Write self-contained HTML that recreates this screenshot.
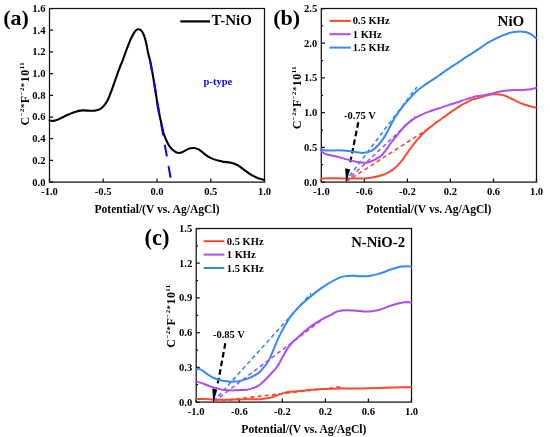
<!DOCTYPE html>
<html><head><meta charset="utf-8"><title>Mott-Schottky plots</title>
<style>html,body{margin:0;padding:0;background:#fff;width:550px;height:437px;overflow:hidden}svg{display:block}text{fill:#000}</style>
</head><body>
<svg width="550" height="437" viewBox="0 0 550 437" style="font-family:'Liberation Serif','Times New Roman',serif;font-weight:bold">
<rect x="49.5" y="8.5" width="215.0" height="173.6" fill="none" stroke="#111" stroke-width="1.25"/>
<path d="M49.5,182.1v-3.6 M103.2,182.1v-3.6 M157.0,182.1v-3.6 M210.8,182.1v-3.6 M264.5,182.1v-3.6 M49.5,182.1h3.6 M49.5,160.4h3.6 M49.5,138.7h3.6 M49.5,117.0h3.6 M49.5,95.3h3.6 M49.5,73.6h3.6 M49.5,51.9h3.6 M49.5,30.2h3.6 M49.5,8.5h3.6" stroke="#111" stroke-width="1.25" fill="none"/>
<text x="49.5" y="194.8" text-anchor="middle" font-size="10.6">-1.0</text>
<text x="103.2" y="194.8" text-anchor="middle" font-size="10.6">-0.5</text>
<text x="157.0" y="194.8" text-anchor="middle" font-size="10.6">0.0</text>
<text x="210.8" y="194.8" text-anchor="middle" font-size="10.6">0.5</text>
<text x="264.5" y="194.8" text-anchor="middle" font-size="10.6">1.0</text>
<text x="45.5" y="185.5" text-anchor="end" font-size="10.6">0.0</text>
<text x="45.5" y="163.8" text-anchor="end" font-size="10.6">0.2</text>
<text x="45.5" y="142.1" text-anchor="end" font-size="10.6">0.4</text>
<text x="45.5" y="120.4" text-anchor="end" font-size="10.6">0.6</text>
<text x="45.5" y="98.7" text-anchor="end" font-size="10.6">0.8</text>
<text x="45.5" y="77.0" text-anchor="end" font-size="10.6">1.0</text>
<text x="45.5" y="55.3" text-anchor="end" font-size="10.6">1.2</text>
<text x="45.5" y="33.6" text-anchor="end" font-size="10.6">1.4</text>
<text x="45.5" y="11.9" text-anchor="end" font-size="10.6">1.6</text>
<path d="M49.6,120.4 C50.2,120.5 51.6,121.1 53.0,120.9 C54.4,120.8 56.3,120.2 58.0,119.5 C59.7,118.8 61.5,117.9 63.3,117.0 C65.1,116.1 67.1,115.1 69.0,114.3 C70.9,113.5 72.4,112.7 74.7,112.0 C77.0,111.3 80.0,110.6 82.7,110.4 C85.4,110.2 88.7,110.8 90.7,110.8 C92.8,110.8 93.5,110.9 95.0,110.6 C96.5,110.3 98.5,109.9 100.0,109.1 C101.5,108.3 102.5,107.4 103.8,105.9 C105.1,104.4 106.4,102.5 107.6,100.3 C108.8,98.1 109.7,95.4 110.7,92.7 C111.8,90.0 112.9,86.8 113.9,83.9 C115.0,81.0 116.0,78.0 117.0,75.1 C118.0,72.2 119.3,68.6 120.2,66.3 C121.1,64.0 121.5,63.5 122.4,61.2 C123.3,58.9 124.5,55.2 125.5,52.5 C126.5,49.8 127.6,47.0 128.5,44.7 C129.4,42.4 130.1,40.4 131.0,38.5 C131.9,36.6 132.9,34.7 133.7,33.4 C134.5,32.1 135.1,31.2 135.8,30.5 C136.5,29.8 137.1,29.4 137.8,29.3 C138.5,29.2 139.3,29.3 140.0,29.6 C140.7,29.9 141.3,30.5 141.9,31.3 C142.5,32.1 143.1,33.3 143.6,34.5 C144.1,35.7 144.5,36.8 145.0,38.5 C145.5,40.2 146.1,42.6 146.6,45.0 C147.1,47.4 147.5,50.3 148.1,53.0 C148.7,55.7 149.5,58.1 150.2,61.2 C150.9,64.3 151.5,67.7 152.2,71.5 C152.9,75.3 153.6,79.7 154.3,83.8 C155.0,87.9 155.7,92.2 156.3,96.2 C156.9,100.2 157.3,104.1 158.0,108.0 C158.7,111.9 159.5,115.1 160.5,119.5 C161.5,123.9 162.6,130.1 163.9,134.3 C165.2,138.5 167.1,142.0 168.4,144.5 C169.8,147.0 170.7,148.0 172.0,149.3 C173.3,150.6 174.7,151.6 176.0,152.2 C177.3,152.8 178.6,153.0 179.8,152.9 C181.1,152.8 182.3,152.2 183.5,151.6 C184.7,151.0 185.8,150.1 187.0,149.6 C188.2,149.1 189.3,148.6 190.5,148.3 C191.7,148.0 192.6,147.8 194.0,148.0 C195.4,148.2 197.1,148.4 199.1,149.6 C201.1,150.8 203.6,153.5 205.9,155.1 C208.2,156.7 210.0,157.8 212.7,158.9 C215.3,160.0 218.8,160.8 221.8,161.4 C224.8,162.1 228.2,162.2 230.9,162.8 C233.6,163.4 235.4,164.0 237.7,165.2 C240.0,166.4 242.2,168.6 244.5,170.2 C246.8,171.8 249.1,173.6 251.4,174.9 C253.7,176.2 256.1,177.4 258.2,178.2 C260.3,179.0 263.0,179.5 264.0,179.8" fill="none" stroke="#000" stroke-width="2.1" stroke-linejoin="round" stroke-linecap="round"/>
<line x1="150.0" y1="60.0" x2="170.6" y2="177.8" stroke="#0808ee" stroke-width="2.0" stroke-dasharray="12,9.5"/>
<text x="203.6" y="84.6" font-size="10.5" style="fill:#0808ee">p-type</text>
<line x1="180.3" y1="21.4" x2="210" y2="21.4" stroke="#000" stroke-width="2.2"/>
<text x="211.6" y="24.8" font-size="15">T-NiO</text>
<text transform="translate(28.8,93.7) rotate(-90)" text-anchor="middle" font-size="12" letter-spacing="0.45">C<tspan font-size="6.8" dy="-5.00">&#8722;2</tspan><tspan font-size="9" dy="3.30">*</tspan><tspan dy="1.70">F</tspan><tspan font-size="6.8" dy="-5.00">&#8722;2</tspan><tspan font-size="9" dy="3.30">*</tspan><tspan dy="1.70">10</tspan><tspan font-size="6.8" dy="-5.00">11</tspan></text>
<text x="157.0" y="213.1" text-anchor="middle" font-size="11.6">Potential/(V vs. Ag/AgCl)</text>
<text x="3.3" y="25.3" font-size="22">(a)</text>
<rect x="321.3" y="8.5" width="215.2" height="173.6" fill="none" stroke="#111" stroke-width="1.25"/>
<path d="M321.3,182.1v-3.6 M364.3,182.1v-3.6 M407.4,182.1v-3.6 M450.4,182.1v-3.6 M493.5,182.1v-3.6 M536.5,182.1v-3.6 M321.3,182.1h3.6 M321.3,147.4h3.6 M321.3,112.7h3.6 M321.3,77.9h3.6 M321.3,43.2h3.6 M321.3,8.5h3.6 M321.3,164.7h1.8 M321.3,130.0h1.8 M321.3,95.3h1.8 M321.3,60.6h1.8 M321.3,25.9h1.8" stroke="#111" stroke-width="1.25" fill="none"/>
<text x="321.3" y="194.8" text-anchor="middle" font-size="10.6">-1.0</text>
<text x="364.3" y="194.8" text-anchor="middle" font-size="10.6">-0.6</text>
<text x="407.4" y="194.8" text-anchor="middle" font-size="10.6">-0.2</text>
<text x="450.4" y="194.8" text-anchor="middle" font-size="10.6">0.2</text>
<text x="493.5" y="194.8" text-anchor="middle" font-size="10.6">0.6</text>
<text x="536.5" y="194.8" text-anchor="middle" font-size="10.6">1.0</text>
<text x="317.3" y="185.5" text-anchor="end" font-size="10.6">0.0</text>
<text x="317.3" y="150.8" text-anchor="end" font-size="10.6">0.5</text>
<text x="317.3" y="116.1" text-anchor="end" font-size="10.6">1.0</text>
<text x="317.3" y="81.3" text-anchor="end" font-size="10.6">1.5</text>
<text x="317.3" y="46.6" text-anchor="end" font-size="10.6">2.0</text>
<text x="317.3" y="11.9" text-anchor="end" font-size="10.6">2.5</text>
<line x1="358.3" y1="122.2" x2="349.8" y2="164.5" stroke="#000" stroke-width="2.2" stroke-dasharray="5.6,3.2"/>
<path d="M321.1,178.9 C322.0,178.8 324.1,178.4 326.2,178.3 C328.2,178.2 330.5,178.2 333.4,178.2 C336.3,178.2 340.3,178.3 343.7,178.4 C347.1,178.5 350.6,178.6 354.0,178.6 C357.4,178.6 361.6,178.6 364.3,178.5 C367.0,178.4 368.0,178.1 370.0,177.8 C372.0,177.5 374.2,177.3 376.3,176.8 C378.4,176.3 380.5,175.8 382.6,175.0 C384.7,174.2 386.8,173.3 388.9,172.1 C391.0,170.9 393.3,169.3 395.2,167.7 C397.1,166.1 398.7,164.4 400.2,162.7 C401.7,161.0 402.8,159.4 404.0,157.7 C405.2,156.0 406.2,154.5 407.5,152.6 C408.8,150.7 410.4,148.5 411.9,146.5 C413.4,144.5 415.0,142.4 416.5,140.6 C418.0,138.8 419.5,137.2 421.0,135.6 C422.5,134.0 423.9,132.6 425.6,131.0 C427.4,129.4 429.6,127.7 431.5,126.2 C433.4,124.7 435.4,123.2 437.3,121.8 C439.2,120.4 441.2,119.1 443.1,117.7 C445.0,116.3 447.0,114.9 448.9,113.5 C450.8,112.1 452.8,110.7 454.7,109.4 C456.6,108.1 458.6,106.8 460.5,105.6 C462.4,104.4 464.4,103.5 466.4,102.5 C468.3,101.5 470.6,100.1 472.2,99.4 C473.8,98.8 474.4,99.0 476.0,98.6 C477.6,98.2 479.9,97.5 481.8,97.0 C483.7,96.5 485.7,95.8 487.6,95.3 C489.6,94.8 491.6,94.4 493.5,94.3 C495.4,94.2 497.4,94.2 499.3,94.5 C501.2,94.8 503.2,95.1 505.1,95.8 C507.0,96.5 509.0,97.6 510.9,98.5 C512.8,99.4 514.8,100.5 516.7,101.4 C518.6,102.3 520.5,103.2 522.5,103.9 C524.5,104.6 526.2,105.2 528.4,105.8 C530.6,106.4 534.6,107.3 535.9,107.6" fill="none" stroke="#fb4a2e" stroke-width="2.0" stroke-linejoin="round" stroke-linecap="round"/>
<path d="M321.1,150.3 C321.4,150.6 321.9,151.7 322.6,152.3 C323.3,152.9 323.9,153.4 325.2,153.9 C326.5,154.4 328.6,154.9 330.3,155.3 C332.0,155.7 333.8,155.9 335.5,156.3 C337.2,156.7 338.9,157.1 340.6,157.6 C342.3,158.1 344.1,158.6 345.8,159.1 C347.5,159.6 349.2,160.1 350.9,160.5 C352.6,160.9 354.4,161.4 356.1,161.7 C357.8,162.0 359.8,162.3 361.2,162.5 C362.6,162.7 363.4,162.8 364.5,162.8 C365.6,162.8 366.6,162.7 367.5,162.5 C368.4,162.3 369.2,162.1 370.0,161.8 C370.8,161.5 371.7,161.2 372.5,160.8 C373.3,160.4 374.1,160.1 375.0,159.6 C375.9,159.1 377.0,158.4 378.0,157.8 C379.0,157.2 379.9,156.9 380.9,156.0 C381.9,155.1 382.9,153.8 383.9,152.6 C384.9,151.4 386.0,150.0 386.9,148.8 C387.8,147.6 388.5,146.4 389.3,145.3 C390.1,144.2 390.8,143.0 391.6,142.0 C392.4,141.0 393.3,140.0 394.0,139.1 C394.7,138.2 394.8,138.1 396.0,136.6 C397.2,135.1 399.8,131.9 401.4,130.1 C402.9,128.2 403.9,126.9 405.3,125.5 C406.7,124.1 408.4,122.8 410.0,121.6 C411.6,120.4 413.3,119.2 414.9,118.2 C416.5,117.2 418.0,116.6 419.8,115.7 C421.6,114.8 423.7,113.7 425.6,112.9 C427.6,112.1 429.6,111.5 431.5,110.8 C433.4,110.1 435.4,109.4 437.3,108.8 C439.2,108.2 441.2,107.6 443.1,106.9 C445.0,106.2 447.0,105.5 448.9,104.9 C450.8,104.3 452.8,103.8 454.7,103.2 C456.6,102.6 458.6,101.9 460.5,101.2 C462.4,100.5 464.4,99.7 466.4,99.1 C468.3,98.5 470.3,97.9 472.2,97.4 C474.1,96.9 476.4,96.4 478.0,96.1 C479.6,95.8 480.2,95.8 481.8,95.5 C483.4,95.2 485.7,95.0 487.6,94.6 C489.6,94.2 491.6,93.7 493.5,93.2 C495.4,92.7 497.4,92.2 499.3,91.8 C501.2,91.4 503.2,91.0 505.1,90.8 C507.0,90.5 509.0,90.4 510.9,90.3 C512.8,90.2 514.8,90.1 516.7,90.1 C518.6,90.1 520.5,90.2 522.5,90.1 C524.5,90.0 526.6,89.8 528.4,89.6 C530.1,89.4 531.8,89.0 533.0,88.7 C534.2,88.4 535.4,88.1 535.9,88.0" fill="none" stroke="#ab4ff0" stroke-width="2.0" stroke-linejoin="round" stroke-linecap="round"/>
<path d="M321.1,149.3 C321.6,149.5 323.0,150.1 324.2,150.3 C325.4,150.5 326.8,150.6 328.3,150.6 C329.8,150.6 331.7,150.6 333.4,150.5 C335.1,150.4 336.9,150.3 338.6,150.3 C340.3,150.3 342.0,150.5 343.7,150.6 C345.4,150.7 347.2,150.9 348.9,151.1 C350.6,151.3 352.3,151.6 354.0,151.8 C355.7,152.1 357.6,152.4 359.2,152.6 C360.8,152.8 362.1,152.9 363.3,152.9 C364.5,152.9 365.4,152.6 366.4,152.4 C367.4,152.2 368.2,152.0 369.3,151.6 C370.4,151.2 371.8,150.6 373.0,149.8 C374.2,149.0 375.4,148.0 376.6,146.8 C377.8,145.6 379.1,144.1 380.3,142.6 C381.5,141.1 382.9,139.2 384.0,137.6 C385.1,136.0 385.8,134.7 386.7,133.0 C387.6,131.3 388.3,129.8 389.5,127.5 C390.7,125.2 392.2,122.0 393.7,119.4 C395.2,116.8 397.0,114.2 398.7,111.8 C400.4,109.4 402.1,107.3 403.8,105.2 C405.5,103.1 407.2,101.1 408.8,99.3 C410.4,97.5 411.9,95.9 413.4,94.4 C414.9,92.9 416.3,91.5 418.0,90.1 C419.7,88.6 421.6,87.2 423.7,85.7 C425.8,84.2 428.1,82.8 430.6,81.1 C433.1,79.4 436.3,77.4 438.6,75.8 C440.9,74.2 442.5,72.9 444.4,71.6 C446.3,70.3 448.2,69.1 450.1,67.8 C452.0,66.5 453.9,65.3 455.8,64.0 C457.7,62.7 459.5,61.6 461.5,60.2 C463.5,58.9 465.8,57.3 468.0,55.9 C470.2,54.5 472.3,53.2 474.5,51.8 C476.7,50.4 478.9,48.9 481.1,47.4 C483.3,45.9 485.4,44.2 487.6,42.9 C489.8,41.6 492.0,40.5 494.2,39.4 C496.4,38.3 498.5,37.3 500.7,36.4 C502.9,35.5 505.1,34.4 507.3,33.7 C509.5,33.0 511.6,32.4 513.8,32.0 C516.0,31.6 518.4,31.4 520.4,31.4 C522.4,31.4 523.9,31.6 525.6,32.0 C527.3,32.5 529.0,33.1 530.8,34.1 C532.5,35.1 535.2,37.6 536.1,38.3" fill="none" stroke="#348af0" stroke-width="2.0" stroke-linejoin="round" stroke-linecap="round"/>
<line x1="345.3" y1="181.5" x2="416.9" y2="86.9" stroke="#348af0" stroke-width="1.6" stroke-dasharray="4.2,3"/>
<line x1="346.0" y1="181.5" x2="415.2" y2="116.5" stroke="#ab4ff0" stroke-width="1.6" stroke-dasharray="4.2,3"/>
<line x1="346.3" y1="181.5" x2="428.0" y2="128.9" stroke="#fb4a2e" stroke-width="1.6" stroke-dasharray="4.2,3"/>
<path d="M345.1,168.2 L350.1,169.4 L346.3,182.6 Z" fill="#000"/>
<text x="344" y="118.6" font-size="10.5">-0.75 V</text>
<line x1="329.5" y1="20.9" x2="350.8" y2="20.9" stroke="#fb4a2e" stroke-width="2"/>
<text x="352.8" y="24.4" font-size="10.5">0.5 KHz</text>
<line x1="329.5" y1="34.2" x2="350.8" y2="34.2" stroke="#ab4ff0" stroke-width="2"/>
<text x="352.8" y="37.8" font-size="10.5">1 KHz</text>
<line x1="329.5" y1="47.6" x2="350.8" y2="47.6" stroke="#348af0" stroke-width="2"/>
<text x="352.8" y="51.1" font-size="10.5">1.5 KHz</text>
<text x="497.6" y="25.7" font-size="15">NiO</text>
<text transform="translate(300.5,97.6) rotate(-90)" text-anchor="middle" font-size="12" letter-spacing="0.45">C<tspan font-size="6.8" dy="-5.00">&#8722;2</tspan><tspan font-size="9" dy="3.30">*</tspan><tspan dy="1.70">F</tspan><tspan font-size="6.8" dy="-5.00">&#8722;2</tspan><tspan font-size="9" dy="3.30">*</tspan><tspan dy="1.70">10</tspan><tspan font-size="6.8" dy="-5.00">11</tspan></text>
<text x="428.9" y="213.1" text-anchor="middle" font-size="11.6">Potential/(V vs. Ag/AgCl)</text>
<text x="273.2" y="25.3" font-size="22">(b)</text>
<rect x="196.2" y="228.5" width="215.3" height="173.6" fill="none" stroke="#111" stroke-width="1.25"/>
<path d="M196.2,402.1v-3.6 M239.3,402.1v-3.6 M282.3,402.1v-3.6 M325.4,402.1v-3.6 M368.4,402.1v-3.6 M411.5,402.1v-3.6 M196.2,402.1h3.6 M196.2,367.4h3.6 M196.2,332.7h3.6 M196.2,297.9h3.6 M196.2,263.2h3.6 M196.2,228.5h3.6 M196.2,384.7h1.8 M196.2,350.0h1.8 M196.2,315.3h1.8 M196.2,280.6h1.8 M196.2,245.9h1.8" stroke="#111" stroke-width="1.25" fill="none"/>
<text x="196.2" y="414.8" text-anchor="middle" font-size="10.6">-1.0</text>
<text x="239.3" y="414.8" text-anchor="middle" font-size="10.6">-0.6</text>
<text x="282.3" y="414.8" text-anchor="middle" font-size="10.6">-0.2</text>
<text x="325.4" y="414.8" text-anchor="middle" font-size="10.6">0.2</text>
<text x="368.4" y="414.8" text-anchor="middle" font-size="10.6">0.6</text>
<text x="411.5" y="414.8" text-anchor="middle" font-size="10.6">1.0</text>
<text x="192.2" y="405.5" text-anchor="end" font-size="10.6">0.0</text>
<text x="192.2" y="370.8" text-anchor="end" font-size="10.6">0.3</text>
<text x="192.2" y="336.1" text-anchor="end" font-size="10.6">0.6</text>
<text x="192.2" y="301.3" text-anchor="end" font-size="10.6">0.9</text>
<text x="192.2" y="266.6" text-anchor="end" font-size="10.6">1.2</text>
<text x="192.2" y="231.9" text-anchor="end" font-size="10.6">1.5</text>
<line x1="225.3" y1="343.3" x2="217.5" y2="385.2" stroke="#000" stroke-width="2.2" stroke-dasharray="5.6,3.2"/>
<path d="M196.6,398.9 C197.9,398.9 201.3,399.0 204.3,399.1 C207.3,399.2 211.2,399.5 214.6,399.6 C218.0,399.7 221.5,399.8 224.9,399.8 C228.3,399.8 232.0,399.7 235.2,399.6 C238.4,399.5 240.7,399.3 244.0,399.2 C247.3,399.1 252.0,399.2 255.0,399.2 C258.0,399.1 259.9,399.1 262.0,398.9 C264.1,398.7 265.8,398.5 267.5,398.2 C269.2,397.9 270.6,397.5 272.0,397.1 C273.4,396.7 274.7,396.2 276.0,395.7 C277.3,395.2 278.6,394.8 280.0,394.3 C281.4,393.8 282.8,393.3 284.5,392.9 C286.2,392.5 287.6,392.1 290.0,391.8 C292.4,391.5 296.5,391.1 299.1,390.9 C301.7,390.7 303.4,390.6 305.5,390.4 C307.6,390.2 309.7,390.0 311.8,389.8 C313.9,389.6 316.1,389.4 318.2,389.3 C320.3,389.2 322.4,389.1 324.5,389.0 C326.6,388.9 328.8,388.9 330.9,388.8 C333.0,388.7 334.1,388.7 337.3,388.6 C340.5,388.6 344.8,388.6 350.0,388.5 C355.2,388.4 362.6,388.4 368.6,388.3 C374.7,388.2 380.4,388.0 386.3,387.8 C392.2,387.6 399.9,387.4 404.0,387.3 C408.1,387.2 409.8,387.1 411.0,387.1" fill="none" stroke="#fb4a2e" stroke-width="2.0" stroke-linejoin="round" stroke-linecap="round"/>
<path d="M196.6,381.8 C197.2,381.9 198.9,382.2 200.2,382.6 C201.5,383.0 202.8,383.4 204.3,384.0 C205.8,384.6 207.7,385.4 209.4,386.0 C211.1,386.6 212.9,387.2 214.6,387.7 C216.3,388.2 218.0,388.7 219.7,389.1 C221.4,389.5 223.2,389.8 224.9,390.0 C226.6,390.2 228.3,390.2 230.0,390.3 C231.7,390.4 233.5,390.4 235.2,390.3 C236.9,390.2 238.4,390.1 240.3,390.0 C242.2,389.9 244.7,390.2 246.9,389.8 C249.1,389.4 251.7,388.6 253.7,387.9 C255.7,387.2 257.3,386.4 258.9,385.4 C260.4,384.4 261.6,383.2 263.0,381.9 C264.4,380.6 265.9,379.1 267.2,377.7 C268.5,376.3 269.7,375.1 271.0,373.7 C272.3,372.3 273.8,370.9 275.0,369.4 C276.2,367.9 277.2,366.7 278.5,364.6 C279.8,362.5 281.2,359.5 282.6,357.0 C284.0,354.5 285.4,351.7 286.7,349.6 C288.0,347.5 289.2,346.0 290.5,344.5 C291.8,343.0 292.5,342.2 294.2,340.6 C295.9,339.0 298.5,336.9 300.6,335.0 C302.7,333.1 304.9,331.1 307.0,329.4 C309.1,327.7 311.3,326.1 313.4,324.6 C315.5,323.1 317.7,321.9 319.8,320.6 C321.9,319.4 324.5,318.0 326.2,317.1 C327.9,316.2 328.4,316.2 330.0,315.4 C331.6,314.5 334.0,312.8 336.0,312.0 C338.0,311.2 339.9,310.8 341.9,310.5 C343.9,310.2 345.9,310.2 347.9,310.2 C349.9,310.2 351.9,310.4 353.9,310.5 C355.9,310.6 357.8,311.0 359.8,311.1 C361.8,311.2 363.8,311.4 365.8,311.4 C367.8,311.4 369.7,311.4 371.7,311.2 C373.7,311.0 375.7,310.7 377.7,310.2 C379.7,309.7 381.7,309.1 383.7,308.4 C385.7,307.7 387.6,306.7 389.6,306.0 C391.6,305.3 393.6,304.8 395.6,304.2 C397.6,303.6 399.6,303.0 401.6,302.7 C403.6,302.4 405.9,302.2 407.5,302.1 C409.1,302.1 410.4,302.3 411.0,302.4" fill="none" stroke="#ab4ff0" stroke-width="2.0" stroke-linejoin="round" stroke-linecap="round"/>
<path d="M196.6,369.3 C196.8,369.2 197.2,368.5 198.1,368.7 C199.0,368.9 200.8,369.5 202.2,370.3 C203.6,371.1 204.9,372.4 206.3,373.4 C207.7,374.4 209.1,375.4 210.5,376.2 C211.9,377.0 213.1,377.7 214.6,378.3 C216.1,378.9 218.0,379.5 219.7,380.0 C221.4,380.5 223.2,380.8 224.9,381.1 C226.6,381.4 228.3,381.6 230.0,381.7 C231.7,381.8 233.5,381.7 235.2,381.6 C236.9,381.5 238.6,381.3 240.3,380.9 C242.1,380.5 244.1,379.8 245.7,379.3 C247.3,378.8 248.1,378.6 250.0,377.7 C251.9,376.8 255.1,375.3 256.9,374.2 C258.6,373.1 259.4,372.3 260.5,371.2 C261.6,370.1 262.5,368.9 263.7,367.4 C264.9,365.8 266.8,363.7 267.9,361.9 C269.0,360.1 269.5,359.0 270.6,356.6 C271.7,354.2 273.1,350.4 274.3,347.6 C275.5,344.8 276.8,341.8 277.7,339.6 C278.6,337.4 278.9,336.8 280.0,334.6 C281.1,332.4 283.0,328.9 284.6,326.2 C286.2,323.5 287.5,320.9 289.4,318.2 C291.3,315.5 293.7,312.6 295.8,310.2 C297.9,307.8 300.1,305.8 302.2,303.8 C304.3,301.8 306.5,300.0 308.6,298.2 C310.7,296.4 312.9,294.6 315.0,292.9 C317.1,291.2 319.3,289.6 321.4,288.1 C323.5,286.6 325.5,285.2 327.8,283.8 C330.1,282.4 332.6,281.0 335.0,279.8 C337.4,278.6 339.8,277.5 341.9,276.9 C344.0,276.2 345.9,276.1 347.9,275.9 C349.9,275.7 351.9,275.6 353.9,275.7 C355.9,275.8 357.8,276.1 359.8,276.2 C361.8,276.3 363.8,276.4 365.8,276.3 C367.8,276.2 369.7,276.0 371.7,275.6 C373.7,275.2 375.7,274.7 377.7,274.1 C379.7,273.5 381.7,272.9 383.7,272.2 C385.7,271.5 387.6,270.6 389.6,269.9 C391.6,269.2 393.6,268.6 395.6,268.0 C397.6,267.4 399.6,266.8 401.6,266.5 C403.6,266.2 405.9,266.2 407.5,266.2 C409.1,266.2 410.4,266.4 411.0,266.5" fill="none" stroke="#348af0" stroke-width="2.0" stroke-linejoin="round" stroke-linecap="round"/>
<line x1="213.5" y1="401.5" x2="311.0" y2="293.4" stroke="#348af0" stroke-width="1.6" stroke-dasharray="4.2,3"/>
<line x1="214.0" y1="401.5" x2="326.2" y2="316.6" stroke="#ab4ff0" stroke-width="1.6" stroke-dasharray="4.2,3"/>
<line x1="214.5" y1="401.5" x2="342.4" y2="386.6" stroke="#fb4a2e" stroke-width="1.6" stroke-dasharray="4.2,3"/>
<path d="M212.3,388.6 L217.2,389.8 L213.3,403.2 Z" fill="#000"/>
<text x="213" y="338" font-size="10.5">-0.85 V</text>
<line x1="203.6" y1="241.2" x2="224.4" y2="241.2" stroke="#fb4a2e" stroke-width="2"/>
<text x="226.8" y="244.7" font-size="10.5">0.5 KHz</text>
<line x1="203.6" y1="254.6" x2="224.4" y2="254.6" stroke="#ab4ff0" stroke-width="2"/>
<text x="226.8" y="258.1" font-size="10.5">1 KHz</text>
<line x1="203.6" y1="268.0" x2="224.4" y2="268.0" stroke="#348af0" stroke-width="2"/>
<text x="226.8" y="271.5" font-size="10.5">1.5 KHz</text>
<text x="351.2" y="247.3" font-size="14.7">N-NiO-2</text>
<text transform="translate(174.6,316.0) rotate(-90)" text-anchor="middle" font-size="12" letter-spacing="0.45">C<tspan font-size="6.8" dy="-5.00">&#8722;2</tspan><tspan font-size="9" dy="3.30">*</tspan><tspan dy="1.70">F</tspan><tspan font-size="6.8" dy="-5.00">&#8722;2</tspan><tspan font-size="9" dy="3.30">*</tspan><tspan dy="1.70">10</tspan><tspan font-size="6.8" dy="-5.00">11</tspan></text>
<text x="303.9" y="432.5" text-anchor="middle" font-size="11.6">Potential/(V vs. Ag/AgCl)</text>
<text x="144.6" y="245.4" font-size="22.5">(c)</text>
</svg>
</body></html>
